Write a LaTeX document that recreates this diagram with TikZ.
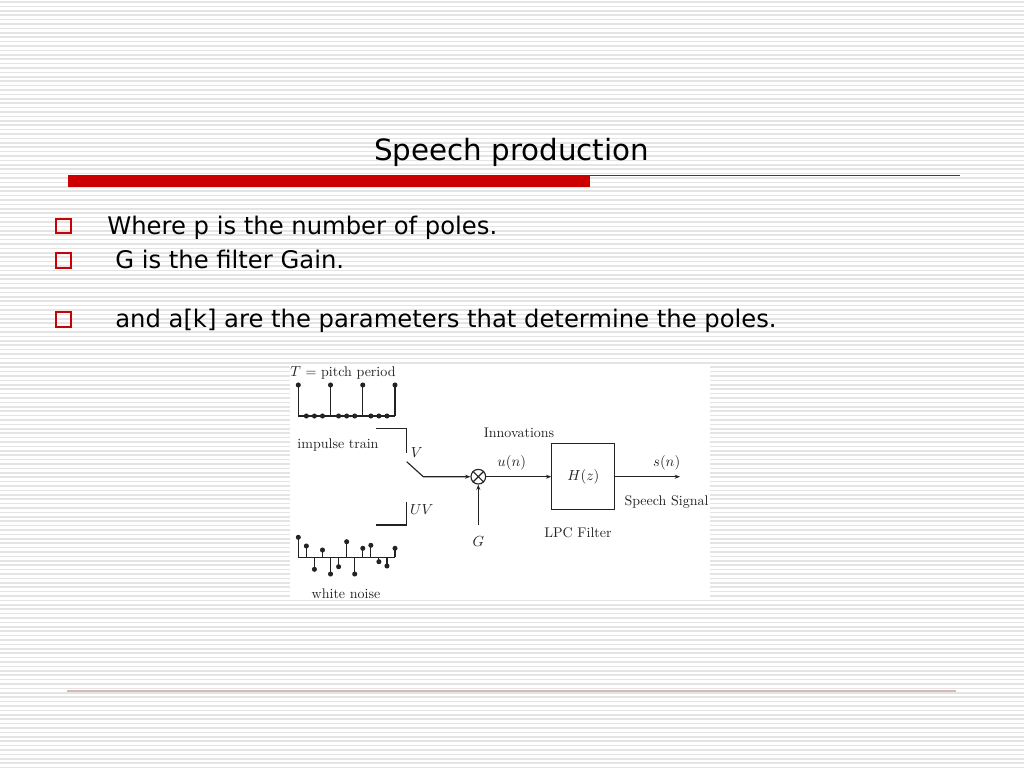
\documentclass[tikz,border=0pt]{standalone}
\usepackage{fontspec}
\newfontfamily\slidefont{DejaVu Sans}
\usetikzlibrary{arrows.meta}
\definecolor{stripe}{RGB}{228,228,228}
\definecolor{slidered}{RGB}{204,0,0}
\definecolor{footline}{RGB}{214,184,184}
\definecolor{ink}{RGB}{35,35,35}
\begin{document}
\begin{tikzpicture}[x=0.75pt,y=-0.75pt,
  dg/.style={draw=ink, line width=0.85pt},
  lbl/.style={font=\fontsize{10.5}{12}\selectfont, text=ink, inner sep=0pt},
  arr/.style={dg, -{Stealth[length=4pt,width=3pt]}},
  bullet/.style={draw=slidered, line width=1.5pt, minimum size=11pt, inner sep=0pt},
  btxt/.style={font=\slidefont\fontsize{18.2}{21}\selectfont, anchor=base west, inner sep=0pt}]
\useasboundingbox (0,0) rectangle (1024,768);
\fill[white] (0,0) rectangle (1024,768);
\foreach \i in {0,...,174} \draw[stripe, line width=1.3pt] (0,{\i*4.4+2}) -- (1024,{\i*4.4+2});
% title and rules
\node[font=\slidefont\fontsize{22}{26}\selectfont, anchor=base, inner sep=0pt] (title) at (511.5,160) {Speech production};
\fill[slidered] (68,175) rectangle (590,187);
\draw[slidered, line width=1pt] (590,175.7) -- (960,175.7);
\draw[footline, line width=1.1pt] (67,691) -- (956,691);
% bullets
\node[bullet] (b1) at (63.3,226) {};
\node[bullet] (b2) at (63.3,260.5) {};
\node[bullet] (b3) at (63.3,319.2) {};
\node[btxt] (t1) at (107,234) {Where p is the number of poles.};
\node[btxt] (t2) at (115,268.3) {G is the filter Gain.};
\node[btxt] (t3) at (115,327.3) {and a[k] are the parameters that determine the poles.};
% diagram panel
\fill[white] (290,365) rectangle (710,598);
% impulse train
\draw[dg] (298.3,416) -- (395,416);
\foreach \k in {0,...,3} {
  \draw[dg] ({298.3+32.23*\k},416) -- ({298.3+32.23*\k},385);
  \fill[ink] ({298.3+32.23*\k},385) circle (1.9pt);
}
\foreach \j in {1,2,3,5,6,7,9,10,11} \fill[ink] ({298.3+8.06*\j},416) circle (1.9pt);
% white noise
\draw[dg] (298.3,557.3) -- (395,557.3);
\foreach \i/\h in {0/537.3,1/546,2/569.3,3/550,4/574,5/566.7,6/541.7,7/574,8/548.3,9/545.3,10/561.7,11/566,12/548.3} {
  \draw[dg] ({298.3+8.06*\i},557.3) -- ({298.3+8.06*\i},\h);
  \fill[ink] ({298.3+8.06*\i},\h) circle (1.9pt);
}
% labels
\node[lbl] (tp) at (343,372.7) {$T$ = pitch period};
\node[lbl] (imp) at (338,445) {impulse train};
\node[lbl] (wn) at (346,593.5) {white noise};
\node[lbl] (V) at (416.7,453) {$V$};
\node[lbl] (UV) at (421.7,510) {$UV$};
\node[lbl] (G) at (478.3,541.7) {$G$};
\node[lbl] (inn) at (519,433) {Innovations};
\node[lbl] (un) at (511.7,462.7) {$u(n)$};
\node[lbl] (sn) at (666.7,462.7) {$s(n)$};
\node[lbl] (ss) at (666.5,501.7) {Speech Signal};
\node[lbl] (lpc) at (578,532.7) {LPC Filter};
% switch
\coordinate (va) at (376,428.3);
\coordinate (vb) at (406.7,428.3);
\coordinate (vc) at (406.7,453.3);
\draw[dg] (va) -- (vb) -- (vc);
\coordinate (ua) at (406.7,501.7);
\coordinate (ub) at (406.7,525);
\coordinate (uc) at (375.7,525);
\draw[dg] (ua) -- (ub) -- (uc);
\coordinate (sa) at (406.7,461.7);
\coordinate (sb) at (423.3,476.7);
% multiplier
\node[circle, dg, minimum size=11pt, inner sep=0pt] (mult) at (478.3,476.7) {};
\draw[dg] (mult.north west) -- (mult.south east) (mult.north east) -- (mult.south west);
\draw[arr] (sa) -- (sb) -- (mult.west);
\coordinate (gs) at (478.3,525);
\draw[arr] (gs) -- (mult.south);
% filter
\node[dg, lbl, minimum width=47.25pt, minimum height=49.5pt] (H) at (583.3,476.7) {$H(z)$};
\draw[arr] (mult.east) -- (H.west);
\coordinate (sout) at (680,476.7);
\draw[arr] (H.east) -- (sout);
\end{tikzpicture}
\end{document}
